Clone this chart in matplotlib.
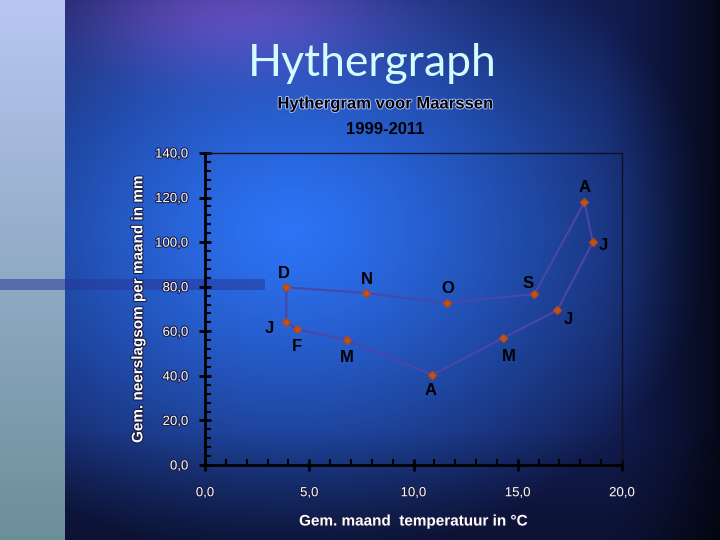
import matplotlib
matplotlib.use("Agg")
import matplotlib.pyplot as plt
import matplotlib.patheffects as pe
from matplotlib.ticker import MultipleLocator, FuncFormatter
import numpy as np

# Gem. maandtemperatuur (°C) en neerslag (mm), Maarssen 1999-2011
maanden = ['J', 'F', 'M', 'A', 'M', 'J', 'J', 'A', 'S', 'O', 'N', 'D']
temperatuur = [3.9, 4.4, 6.8, 10.9, 14.3, 16.9, 18.6, 18.2, 15.8, 11.6, 7.7, 3.9]
neerslag = [64.2, 61.0, 56.1, 40.4, 57.0, 69.5, 100.0, 118.0, 76.7, 72.7, 77.2, 79.7]

# label offsets in pixels (dx, dy), positief = rechts / omhoog
label_offset = [(-17, -7), (0, -17), (0, -18), (-2, -16), (6, -19), (11, -9),
                (11, -3), (0, 15), (-6, 11), (1, 14), (1, 13), (-2, 14)]

fig = plt.figure(figsize=(7.2, 5.4), dpi=100)

# achtergrond (dia-stijl)
H, W = 540, 720
yy, xx = np.mgrid[0:H, 0:W]
d = np.sqrt(((xx - 290) / 420.0) ** 2 + ((yy - 230) / 330.0) ** 2)
t = np.clip(d, 0, 1) ** 1.3
bright = np.array([45, 115, 245]) / 255.0
dark = np.array([18, 28, 80]) / 255.0
img = bright[None, None, :] * (1 - t[..., None]) + dark[None, None, :] * t[..., None]
# paarse gloed bovenaan
glow = np.exp(-(((xx - 230) / 160.0) ** 2 + ((yy - 10) / 60.0) ** 2))
img = img + glow[..., None] * np.array([0.25, 0.05, 0.15])
edge = np.clip((xx - 600) / 120.0, 0, 1) ** 1.5
img = img * (1 - 0.7 * edge[..., None])
bot = np.clip((yy - 430) / 110.0, 0, 1)
img = img * (1 - 0.35 * bot[..., None])
strip = xx < 65
v = yy / H
strip_col = np.stack([0.72 - 0.30 * v, 0.78 - 0.22 * v, 0.95 - 0.35 * v], axis=-1)
img[strip] = strip_col[strip]
bar = (yy >= 279) & (yy <= 289) & (xx <= 264)
img[bar] = img[bar] * 0.45 + np.array([0.15, 0.22, 0.6]) * 0.55
img = np.clip(img, 0, 1)

ax_bg = fig.add_axes([0, 0, 1, 1])
ax_bg.imshow(img, aspect='auto', extent=[0, 1, 0, 1])
ax_bg.axis('off')

ax = fig.add_axes([205 / 720, 75 / 540, 417 / 720, 312 / 540])
ax.set_facecolor('none')

x = temperatuur + [temperatuur[0]]
y = neerslag + [neerslag[0]]
ax.plot(x, y, color='#4a46a8', lw=1.5, zorder=2)
ax.plot(temperatuur, neerslag, ls='none', marker='D', ms=4.5,
        color='#c0521e', mec='#b04818', zorder=3)

for m, tx, ny, (dx, dy) in zip(maanden, temperatuur, neerslag, label_offset):
    ax.annotate(m, (tx, ny), xytext=(dx, dy), textcoords='offset pixels',
                ha='center', va='center', fontsize=12, fontweight='bold',
                family='Liberation Sans', color='black')

ax.set_xlim(0, 20)
ax.set_ylim(0, 140)
ax.xaxis.set_major_locator(MultipleLocator(5))
ax.xaxis.set_minor_locator(MultipleLocator(1))
ax.yaxis.set_major_locator(MultipleLocator(20))
ax.yaxis.set_minor_locator(MultipleLocator(4))
fmt = FuncFormatter(lambda val, pos: f"{val:.1f}".replace('.', ','))
ax.xaxis.set_major_formatter(fmt)
ax.yaxis.set_major_formatter(fmt)

for s in ['left', 'bottom']:
    ax.spines[s].set_linewidth(2)
    ax.spines[s].set_color('black')
for s in ['top', 'right']:
    ax.spines[s].set_linewidth(1)
    ax.spines[s].set_color('#101020')

ax.tick_params(which='major', direction='inout', length=8, width=2, color='black')
ax.tick_params(which='minor', direction='in', length=4, width=1.5, color='black')
ax.tick_params(axis='y', which='major', pad=8)
ax.tick_params(axis='x', which='major', pad=12)

stroke = [pe.withStroke(linewidth=1.5, foreground='#1a1a40')]
for lab in ax.get_xticklabels() + ax.get_yticklabels():
    lab.set_color('white')
    lab.set_fontsize(9.5)
    lab.set_family('Liberation Sans')
    lab.set_path_effects(stroke)

ax.set_xlabel('Gem. maand  temperatuur in °C', color='white', fontsize=11,
              fontweight='bold', family='Liberation Sans', labelpad=11,
              path_effects=stroke)
ax.set_ylabel('Gem. neerslagsom per maand in mm', color='white', fontsize=11,
              fontweight='bold', family='Liberation Sans', labelpad=7,
              path_effects=stroke)

fig.text(385 / 720, 1 - 104 / 540, 'Hythergram voor Maarssen', ha='center',
         va='center', fontsize=12, fontweight='bold', family='Liberation Sans',
         color='black', path_effects=[pe.withStroke(linewidth=1.2, foreground='#c0d0ff')])
fig.text(385 / 720, 1 - 130 / 540, '1999-2011', ha='center', va='center',
         fontsize=12, fontweight='bold', family='Liberation Sans', color='black')

fig.text(372 / 720, 1 - 63 / 540, 'Hythergraph', ha='center', va='center',
         fontsize=32, family='Lato', color='#d4fbff')

fig.savefig('out.png', dpi=100)
